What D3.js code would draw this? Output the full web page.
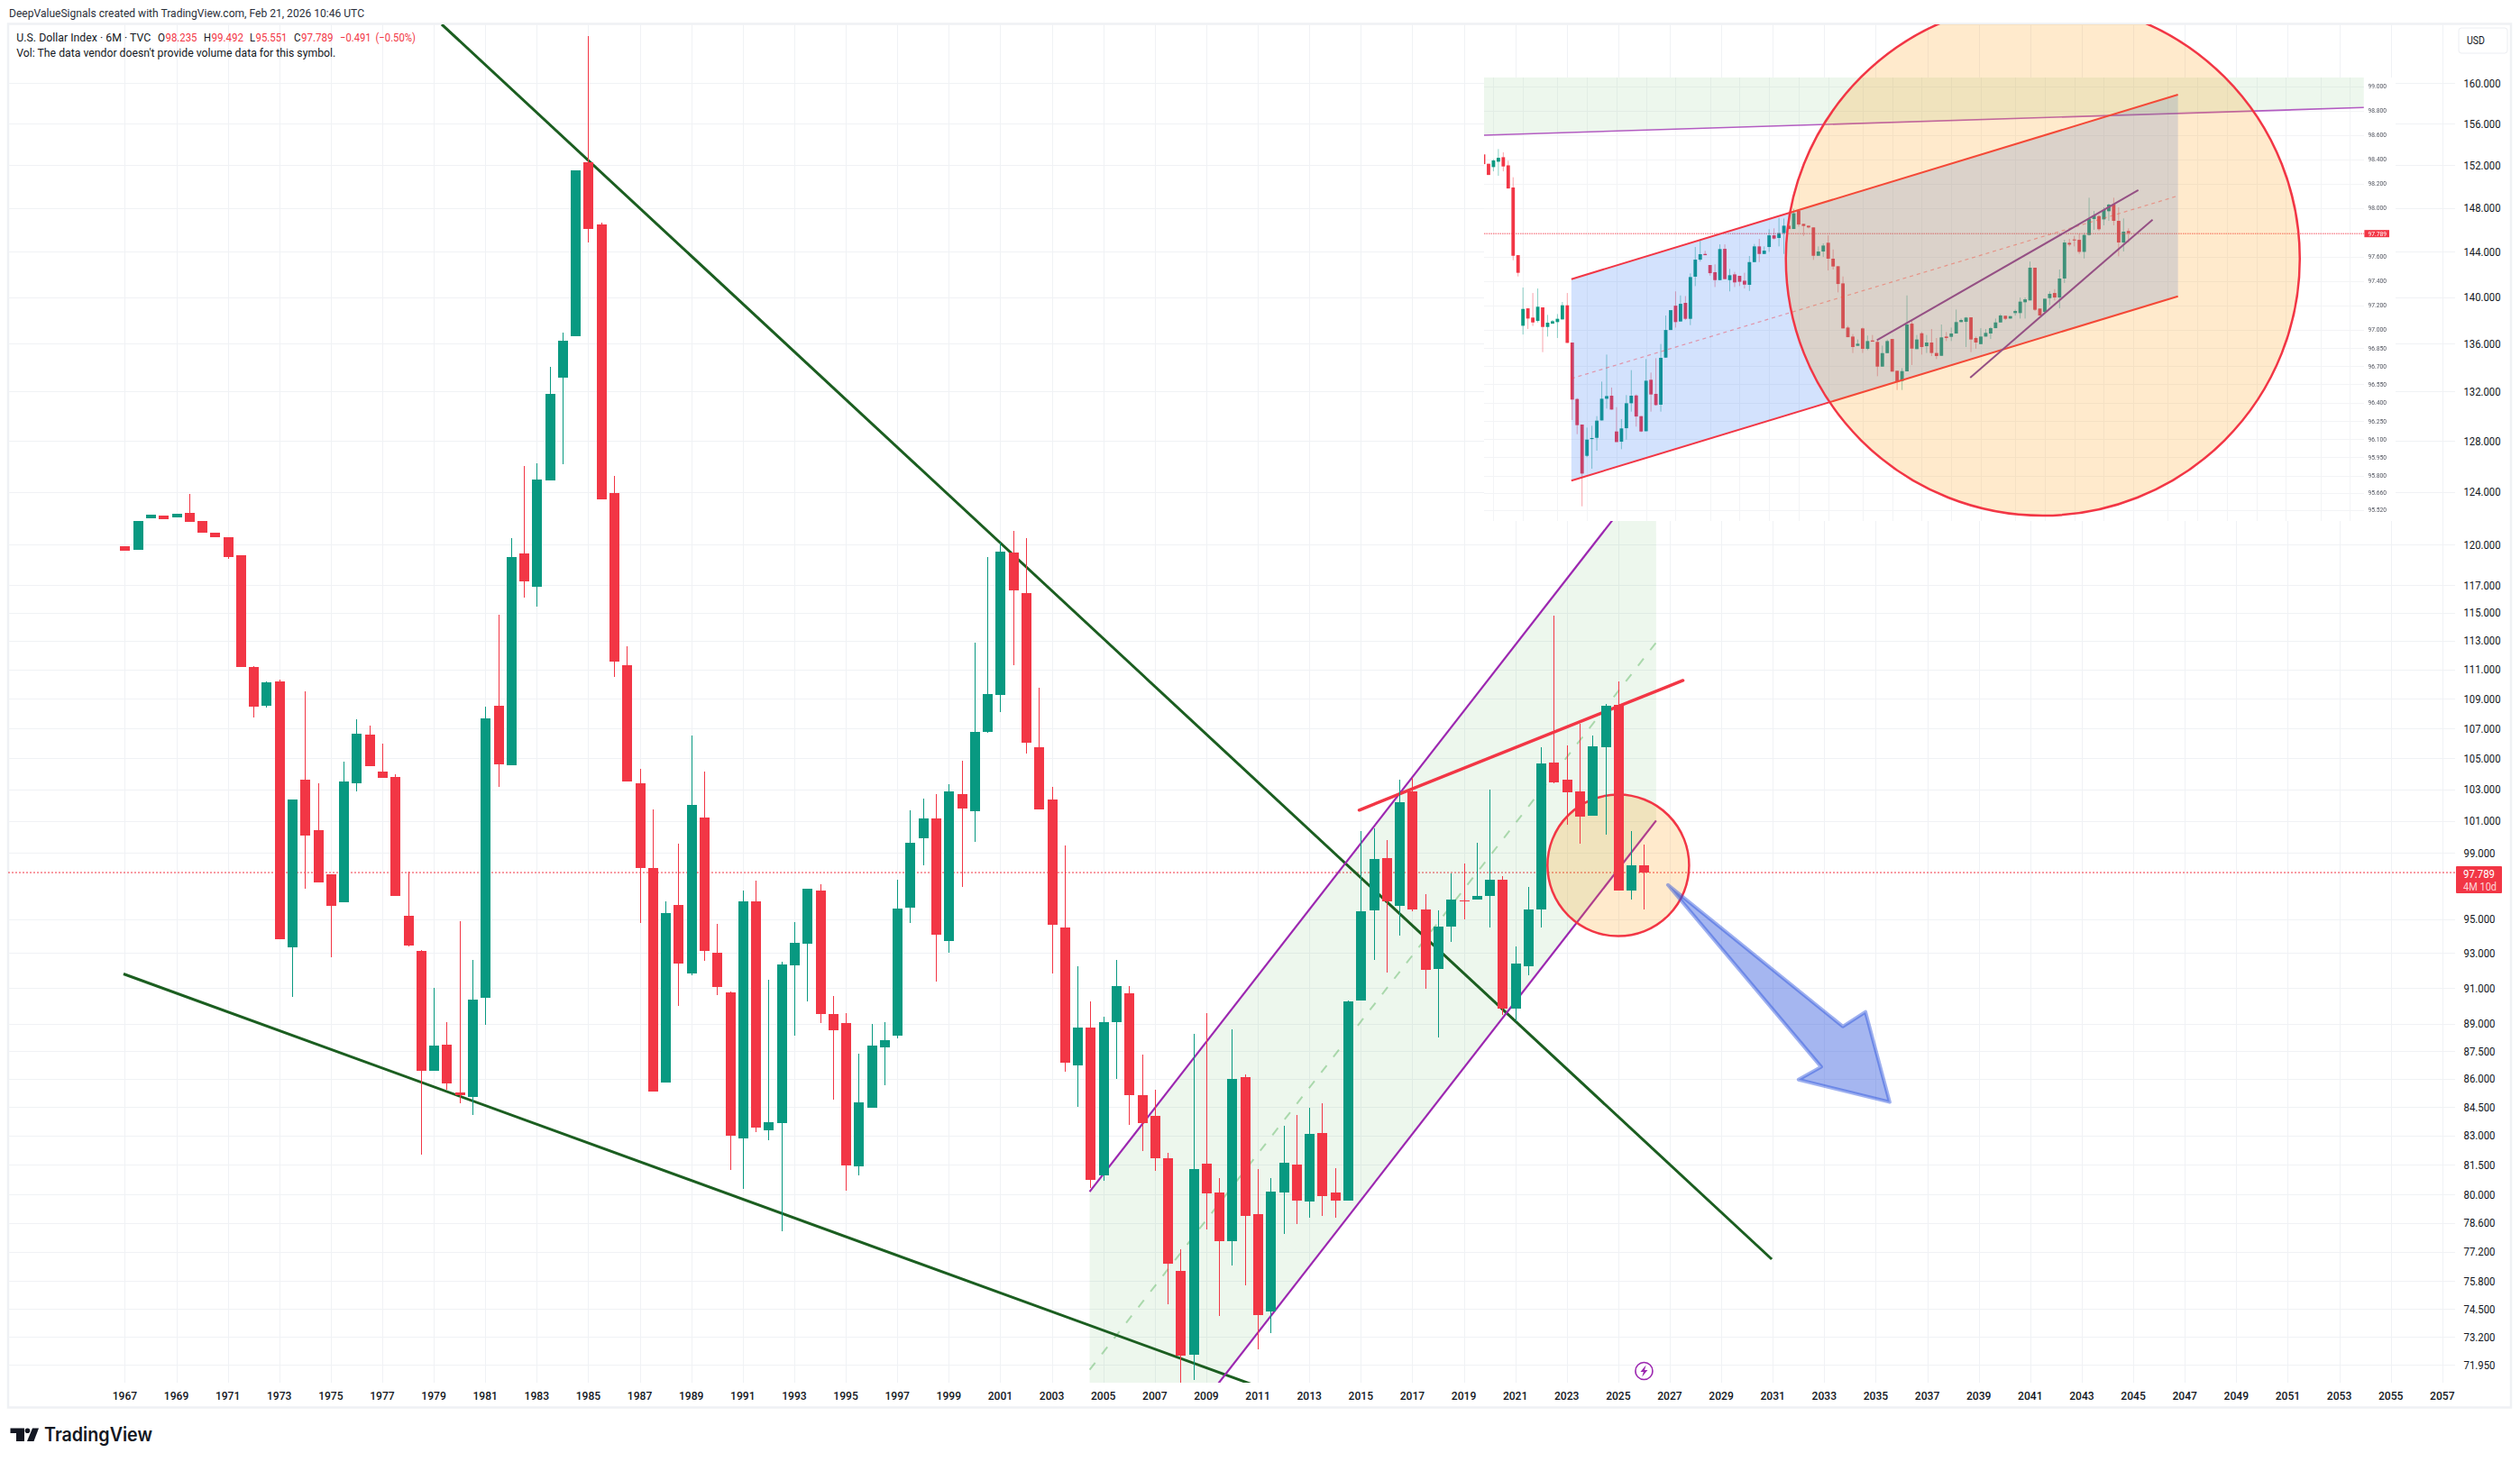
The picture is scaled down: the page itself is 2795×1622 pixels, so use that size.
<!DOCTYPE html>
<html><head><meta charset="utf-8">
<script src="https://cdn.jsdelivr.net/npm/d3@7"></script>
<style>html,body{margin:0;padding:0;background:#fff}svg{display:block}text{font-family:Roboto,"Noto Sans",sans-serif}</style>
</head><body><svg id="c" width="2795" height="1622"></svg>
<script>
// ---------- main chart values (DXY, 6M candles from 1967.0, one every half year)
const startYear = 1967;
const opens = [119.87,119.60,121.98,122.18,122.05,122.39,121.77,120.89,120.54,119.20,
111.17,108.52,110.17,93.34,103.63,100.43,97.69,96.00,103.40,106.59,
104.15,103.81,95.20,93.13,86.43,87.85,85.27,85.03,90.45,108.52,
104.56,119.33,116.87,124.89,133.15,136.64,152.30,146.49,123.90,111.30,
103.40,98.08,85.79,95.84,91.84,101.22,93.03,90.75,82.86,96.05,
83.28,83.65,92.30,93.55,96.71,89.55,89.04,81.43,84.46,87.70,
88.34,95.68,99.92,101.16,93.71,102.71,101.61,106.76,109.26,119.40,
116.41,105.75,102.36,94.51,86.72,88.79,80.97,89.09,90.70,85.13,
84.00,81.84,76.29,72.40,81.57,80.12,77.73,86.09,79.04,74.38,
80.12,81.52,79.67,83.14,80.12,79.71,90.30,95.52,98.68,95.78,
102.88,95.57,92.09,94.56,96.10,96.16,96.38,97.36,89.85,92.25,
95.57,104.74,103.63,102.88,101.33,105.75,108.58,96.71,98.235];
const highs = [119.87,121.77,122.25,122.18,122.32,123.83,121.77,120.89,120.54,119.20,
111.23,110.17,110.30,102.36,109.50,103.40,97.69,104.80,107.60,107.18,
105.99,103.98,97.86,93.18,91.01,89.09,94.88,92.61,108.46,114.86,
120.47,126.02,126.23,134.05,136.95,151.52,164.75,146.66,125.22,112.62,
104.33,101.73,96.05,99.58,106.52,104.15,94.73,90.80,96.71,97.31,
91.47,92.50,94.83,96.82,97.09,90.55,89.60,87.36,88.99,89.09,
97.36,101.67,102.42,102.71,103.34,104.86,112.87,119.07,120.14,121.02,
120.47,109.75,103.17,99.47,92.25,90.25,89.39,92.61,91.11,87.31,
85.41,82.12,77.32,88.44,89.60,80.84,88.69,86.23,81.29,80.84,
83.51,84.08,84.46,84.70,81.33,90.30,100.37,100.54,99.80,103.63,
103.75,96.49,95.51,97.75,98.35,99.63,103.00,97.58,93.39,96.93,
105.75,114.79,105.87,107.30,106.52,108.65,110.17,100.37,99.492];
const lows = [119.53,119.60,121.98,121.91,122.05,121.71,120.89,120.54,118.93,111.17,
107.72,108.40,93.82,90.50,96.82,97.20,92.77,96.00,102.88,104.50,
103.75,96.38,93.39,82.03,86.43,85.41,84.70,84.08,88.94,103.17,
104.56,116.09,115.44,124.89,126.16,136.64,144.87,123.42,110.48,103.52,
94.78,85.32,85.79,90.00,91.73,92.56,90.60,81.24,80.30,83.18,
82.77,78.20,88.34,90.25,89.04,84.89,80.21,80.97,84.46,85.65,
88.19,94.78,98.24,91.37,93.03,96.93,99.69,106.70,108.09,111.30,
105.33,101.73,91.84,86.38,84.51,80.34,80.70,85.99,83.56,82.21,
81.20,74.72,71.15,71.27,78.29,74.18,76.54,75.61,72.64,73.39,
78.07,78.55,78.86,78.95,78.86,79.71,90.30,92.61,91.89,94.03,
95.46,90.96,88.24,93.66,94.99,96.16,94.51,89.49,89.14,91.73,
94.51,103.40,100.76,99.58,101.33,100.15,96.71,96.16,95.551];
const closes = [119.53,121.77,122.25,121.91,122.32,121.71,120.89,120.54,119.07,111.17,
108.46,110.11,93.82,102.36,100.09,97.20,95.78,103.52,106.65,104.50,
103.75,96.38,93.44,86.43,87.80,85.74,85.13,90.35,107.66,104.62,
119.07,117.26,124.96,131.81,136.26,151.52,146.09,123.42,111.55,103.52,
98.08,85.32,95.36,92.40,102.01,93.13,91.06,83.00,96.05,83.41,
83.70,92.35,93.60,96.82,89.55,88.64,81.47,84.75,87.80,88.09,
95.62,99.64,101.16,94.08,102.88,101.79,106.76,109.32,119.47,116.61,
106.05,101.73,94.67,86.84,88.79,80.75,89.09,91.11,85.13,83.65,
81.84,76.62,72.36,81.29,80.07,77.73,85.99,78.95,74.22,80.16,
81.61,79.71,83.09,79.94,79.71,90.25,95.46,98.63,96.05,102.19,
95.57,92.04,94.56,96.16,96.05,96.38,97.36,89.85,92.40,95.57,
104.68,103.46,102.82,101.27,105.81,108.52,96.71,98.24,97.789];
const yearTicks = d3.range(1967, 2058, 2);
const priceTicks = [160,156,152,148,144,140,136,132,128,124,120,117,115,113,111,109,107,105,103,101,99,95,93,91,89,87.5,86,84.5,83,81.5,80,78.6,77.2,75.8,74.5,73.2,71.95];
const lastPrice = 97.789;

// ---------- main chart drawings (year, price)
const wedgeUpper = [[1979.31,165.95],[2030.96,76.84]];
const wedgeLower = [[1966.95,91.80],[2011.16,70.91]];
const channelUpper = [[2004.47,80.14],[2026.47,126.16]];
const channelMid = [[2004.47,71.72],[2026.47,112.87]];
const channelLower = [[2004.47,64.14],[2026.47,101.01]];
const redTrend = [[2014.94,101.67],[2027.51,110.23]];
const smallCircle = {year:2025, price:98.23, edgeYear:2027.75};
const arrowShape = [[2026.93,97.04],[2033.72,88.84],[2034.60,89.65],[2035.54,84.75],[2032.00,85.94],[2032.88,86.63]];

// ---------- inset chart values (bar number, inset price)
const insetOpen = [98.44,98.363,98.336,98.380,98.417,98.350,98.168,97.612,97.032,97.175,97.099,97.072,97.183,97.022,97.049,97.062,97.084,97.200,
96.894,96.430,96.220,95.963,96.101,96.111,96.254,96.432,96.457,96.163,96.079,96.190,96.395,96.459,96.289,96.165,96.588,96.472,96.383,96.770,96.997,97.197,97.067,97.220,97.089,97.435,97.575,97.622,97.531,97.472,97.407,97.664,97.407,97.454,97.442,97.402,97.368,97.555,97.684,97.622,97.679,97.775,97.753,97.793,97.854,97.827,97.978,97.869,97.854,97.840,97.607,97.642,97.714,97.583,97.521,97.380,97.017,96.943,96.867,97.010,96.842,96.911,96.899,96.696,96.807,96.923,96.662,96.578,96.657,97.049,96.840,96.970,96.864,96.894,96.808,96.785,96.943,96.941,96.968,97.062,97.064,97.101,96.931,96.881,96.943,96.968,97.012,97.059,97.114,97.091,97.136,97.136,97.225,97.240,97.509,97.173,97.146,97.259,97.301,97.264,97.420,97.713,97.741,97.738,97.639,97.778,97.909,97.933,97.906,97.973,98.030,97.894,97.716,97.810];
const insetHigh = [98.44,98.363,98.400,98.484,98.457,98.388,98.252,97.612,97.346,97.175,97.301,97.338,97.183,97.121,97.079,97.128,97.227,97.301,
96.894,96.437,96.220,96.195,96.210,96.289,96.573,96.795,96.524,96.363,96.264,96.462,96.667,96.467,96.289,96.758,96.647,96.765,96.882,97.116,97.160,97.314,97.281,97.276,97.462,97.679,97.733,97.647,97.531,97.536,97.701,97.701,97.499,97.474,97.442,97.467,97.605,97.704,97.746,97.684,97.825,97.832,97.918,97.913,97.854,97.993,97.980,97.869,97.854,97.840,97.684,97.709,97.775,97.659,97.521,97.437,97.030,96.963,96.919,97.017,96.951,96.956,96.919,96.869,96.919,96.923,96.662,96.684,97.281,97.079,96.956,96.980,96.956,97.005,96.931,97.042,96.980,97.017,97.165,97.091,97.104,97.101,96.943,97.012,97.005,97.022,97.091,97.128,97.114,97.111,97.165,97.264,97.264,97.560,97.509,97.173,97.254,97.314,97.333,97.494,97.738,97.746,97.770,97.790,97.795,98.084,97.975,97.943,98.005,98.035,98.084,98.005,97.914,97.832];
const insetLow = [98.36,98.271,98.301,98.264,98.301,98.160,97.570,97.437,96.960,97.005,97.030,97.059,96.815,96.943,97.049,96.931,97.084,96.891,
96.257,96.141,95.548,95.951,95.857,96.005,96.254,96.351,96.343,96.076,96.017,96.096,96.326,96.203,96.158,96.165,96.326,96.375,96.326,96.770,96.997,97.017,97.067,97.079,97.037,97.358,97.560,97.612,97.444,97.350,97.407,97.415,97.314,97.350,97.358,97.338,97.318,97.555,97.555,97.622,97.639,97.741,97.684,97.622,97.827,97.827,97.847,97.770,97.832,97.573,97.607,97.597,97.486,97.494,97.306,97.010,96.938,96.808,96.867,96.808,96.832,96.901,96.617,96.696,96.807,96.655,96.504,96.504,96.657,96.709,96.840,96.795,96.808,96.783,96.758,96.785,96.906,96.906,96.968,97.062,96.857,96.815,96.844,96.881,96.943,96.923,97.012,97.059,97.079,97.091,97.116,97.091,97.091,97.240,97.153,97.116,97.136,97.202,97.240,97.175,97.383,97.684,97.684,97.622,97.585,97.773,97.820,97.812,97.857,97.894,97.857,97.602,97.642,97.716];
const insetClose = [98.36,98.271,98.390,98.412,98.341,98.160,97.607,97.467,97.170,97.091,97.059,97.188,97.022,97.057,97.069,97.089,97.200,96.891,
96.425,96.215,95.817,96.096,96.109,96.252,96.432,96.454,96.343,96.076,96.188,96.395,96.457,96.286,96.163,96.580,96.467,96.380,96.768,96.997,97.160,97.062,97.212,97.089,97.432,97.575,97.620,97.612,97.464,97.407,97.662,97.415,97.447,97.388,97.393,97.370,97.555,97.684,97.622,97.649,97.775,97.748,97.793,97.854,97.827,97.956,97.864,97.852,97.840,97.607,97.642,97.691,97.583,97.519,97.375,97.010,96.938,96.857,96.884,96.842,96.906,96.901,96.696,96.807,96.906,96.655,96.573,96.659,97.042,96.844,96.919,96.857,96.894,96.808,96.783,96.936,96.931,96.968,97.062,97.079,97.099,96.919,96.894,96.943,96.973,97.012,97.059,97.116,97.089,97.111,97.153,97.230,97.249,97.509,97.163,97.116,97.254,97.294,97.264,97.420,97.716,97.699,97.733,97.639,97.778,97.911,97.938,97.825,97.983,98.027,97.894,97.716,97.805,97.793];
const insetGridBars = [2,8,15,21,27,33,39,46,52,58,64,70,77,83,89,95,101,108,114,120,126,132,139,145,151,157,163,170,176];
const insetTicks = [99,98.8,98.6,98.4,98.2,98,97.6,97.4,97.2,97,96.85,96.7,96.55,96.4,96.25,96.1,95.95,95.8,95.66,95.52];
const insetGreenEdge = [[0.08,98.598],[178.8,98.825]];
const insetChannelUpper = [[17.83,97.415],[141.05,98.931]];
const insetChannelLower = [[17.83,95.759],[141.05,97.274]];
const insetChannelMid = [[17.83,96.598],[140.6,98.094]];
const insetWedgeUpper = [[79.9,96.914],[133,98.146]];
const insetWedgeLower = [[98.85,96.605],[135.9,97.904]];
const bigCircle = {bar:113.6, price:97.583, edgeBar:165.8};

// ---------- colours
const UP='#089981', DOWN='#f23645', GRID='#f0f2f5', WEDGE='#1b5e20', PURPLE='#9c27b0', TXT='#131722';

// ---------- scales
const x = d3.scaleLinear().domain([1967,2057]).range([138.4,2708.8]);
const y = d3.scaleLog().domain([71.95,160]).range([1514,92]);
const ix = d3.scaleLinear().domain([0,130]).range([1645.5,2355.3]);
const iy = d3.scaleLinear().domain([95.52,99]).range([565.5,95.7]);
const pane = {l:9,t:27,r:2723,b:1534};
const inset = {l:1646,t:86,r:2657,b:578,plot:2622};

const svg = d3.select('#c');
const defs = svg.append('defs');
defs.append('clipPath').attr('id','pane').append('rect').attr('x',pane.l).attr('y',pane.t).attr('width',pane.r-pane.l).attr('height',pane.b-pane.t);
defs.append('clipPath').attr('id','iplot').append('rect').attr('x',inset.l).attr('y',inset.t).attr('width',inset.plot-inset.l).attr('height',inset.b-inset.t);
defs.append('filter').attr('id','soft').append('feGaussianBlur').attr('stdDeviation',0.35);

const line = (sx,sy)=>d3.line().x(d=>sx(d[0])).y(d=>sy(d[1]));
const mainLine = line(x,y), insetLine = line(ix,iy);

// frame
svg.append('rect').attr('x',9).attr('y',26.5).attr('width',2776).attr('height',1535).attr('fill','none').attr('stroke','#eff1f4').attr('stroke-width',2.5);

// grid
const grid = svg.append('g').attr('shape-rendering','crispEdges').attr('stroke',GRID).attr('stroke-width',1);
grid.selectAll('.v').data(yearTicks).join('line').attr('x1',d=>Math.round(x(d))+.5).attr('x2',d=>Math.round(x(d))+.5).attr('y1',pane.t).attr('y2',pane.b);
grid.selectAll('.h').data(priceTicks).join('line').attr('x1',pane.l).attr('x2',pane.r).attr('y1',d=>Math.round(y(d))+.5).attr('y2',d=>Math.round(y(d))+.5);

const below = svg.append('g').attr('clip-path','url(#pane)');
// last price line
below.append('line').attr('x1',pane.l).attr('x2',pane.r).attr('y1',y(lastPrice)).attr('y2',y(lastPrice)).attr('stroke',DOWN).attr('stroke-width',1).attr('stroke-dasharray','2 2');
// channel
below.append('path').attr('d',mainLine([channelUpper[0],channelUpper[1],channelLower[1],channelLower[0]])+'Z').attr('fill','rgba(76,175,80,0.1)');
below.append('path').attr('d',mainLine(channelMid)).attr('fill','none').attr('stroke','#4caf50').attr('stroke-opacity',.42).attr('stroke-width',2).attr('stroke-dasharray','10 12');
below.append('path').attr('d',mainLine(wedgeUpper)).attr('fill','none').attr('stroke',WEDGE).attr('stroke-width',3);
below.append('path').attr('d',mainLine(wedgeLower)).attr('fill','none').attr('stroke',WEDGE).attr('stroke-width',3);
below.append('path').attr('d',mainLine(channelUpper)).attr('fill','none').attr('stroke',PURPLE).attr('stroke-width',2.2);
below.append('path').attr('d',mainLine(channelLower)).attr('fill','none').attr('stroke',PURPLE).attr('stroke-width',2.2);

// ---------- inset picture
const ins = svg.append('g');
ins.append('rect').attr('x',inset.l).attr('y',inset.t).attr('width',inset.r-inset.l).attr('height',inset.b-inset.t).attr('fill','#fff');
const ig = ins.append('g').attr('shape-rendering','crispEdges').attr('stroke','#f3f4f6').attr('stroke-width',1);
ig.selectAll('.v').data(insetGridBars).join('line').attr('x1',d=>Math.round(ix(d))+.5).attr('x2',d=>Math.round(ix(d))+.5).attr('y1',inset.t).attr('y2',inset.b);
ig.selectAll('.h').data(insetTicks).join('line').attr('x1',inset.l).attr('x2',inset.plot).attr('y1',d=>Math.round(iy(d))+.5).attr('y2',d=>Math.round(iy(d))+.5);
const ipl = ins.append('g').attr('clip-path','url(#iplot)');
// green band above purple edge
const greenBand = [insetGreenEdge[0],insetGreenEdge[1]];
ipl.append('path').attr('d',`M${ix(greenBand[0][0])},${inset.t}L${ix(greenBand[1][0])},${inset.t}L${ix(greenBand[1][0])},${iy(greenBand[1][1])}L${ix(greenBand[0][0])},${iy(greenBand[0][1])}Z`).attr('fill','rgba(76,175,80,0.1)');
// inset candles
const ibars = d3.range(insetOpen.length).map(i=>({i,o:insetOpen[i],h:insetHigh[i],l:insetLow[i],c:insetClose[i]}));
const icg = ipl.append('g').attr('filter','url(#soft)');
icg.selectAll('line').data(ibars).join('line').attr('x1',d=>ix(d.i)).attr('x2',d=>ix(d.i)).attr('y1',d=>iy(d.h)).attr('y2',d=>iy(d.l)).attr('stroke',d=>d.c>=d.o?UP:DOWN).attr('stroke-width',1).attr('stroke-opacity',.45);
icg.selectAll('rect').data(ibars).join('rect').attr('x',d=>ix(d.i)-1.9).attr('width',3.8).attr('y',d=>iy(Math.max(d.o,d.c))).attr('height',d=>Math.max(1,iy(Math.min(d.o,d.c))-iy(Math.max(d.o,d.c)))).attr('fill',d=>d.c>=d.o?UP:DOWN);
// price line in inset
ipl.append('line').attr('x1',inset.l).attr('x2',inset.plot).attr('y1',iy(lastPrice)).attr('y2',iy(lastPrice)).attr('stroke',DOWN).attr('stroke-opacity',.85).attr('stroke-dasharray','1.5 1');
// inset axis labels
const itg = ins.append('g').attr('filter','url(#soft)');
itg.selectAll('text').data(insetTicks).join('text').attr('x',2626.5).attr('y',d=>iy(d)).attr('dy','.36em').attr('font-size',7.5).attr('fill','#50535e').attr('textLength',20.5).attr('lengthAdjust','spacingAndGlyphs').text(d=>d3.format('.3f')(d));
ins.append('rect').attr('x',2622.4).attr('y',iy(lastPrice)-4).attr('width',27.6).attr('height',8).attr('fill',DOWN);
ins.append('text').attr('x',2626.5).attr('y',iy(lastPrice)).attr('dy','.36em').attr('font-size',7.5).attr('fill','#fff').attr('textLength',20.5).attr('lengthAdjust','spacingAndGlyphs').attr('filter','url(#soft)').text('97.789');
// inset drawings on top of candles
ipl.append('path').attr('d',insetLine(insetGreenEdge)).attr('fill','none').attr('stroke',PURPLE).attr('stroke-opacity',.75).attr('stroke-width',1.6);
ipl.append('path').attr('d',insetLine([insetChannelUpper[0],insetChannelUpper[1],insetChannelLower[1],insetChannelLower[0]])+'Z').attr('fill','rgba(33,110,243,0.2)');
ipl.append('path').attr('d',insetLine(insetChannelMid)).attr('fill','none').attr('stroke',DOWN).attr('stroke-opacity',.45).attr('stroke-width',1.2).attr('stroke-dasharray','4 4');
ipl.append('path').attr('d',insetLine(insetChannelUpper)).attr('fill','none').attr('stroke',DOWN).attr('stroke-width',2);
ipl.append('path').attr('d',insetLine(insetChannelLower)).attr('fill','none').attr('stroke',DOWN).attr('stroke-width',2);
ipl.append('path').attr('d',insetLine(insetWedgeUpper)).attr('fill','none').attr('stroke','#7b3fa6').attr('stroke-width',2);
ipl.append('path').attr('d',insetLine(insetWedgeLower)).attr('fill','none').attr('stroke','#7b3fa6').attr('stroke-width',2);

// circles & arrow
const over = svg.append('g').attr('clip-path','url(#pane)');
over.append('circle').attr('cx',ix(bigCircle.bar)).attr('cy',iy(bigCircle.price)).attr('r',ix(bigCircle.edgeBar)-ix(bigCircle.bar)).attr('fill','rgba(255,152,0,0.2)').attr('stroke',DOWN).attr('stroke-width',2.5);
// red trend
over.append('path').attr('d',mainLine(redTrend)).attr('fill','none').attr('stroke',DOWN).attr('stroke-width',3.5).attr('stroke-linecap','round');
over.append('circle').attr('cx',x(smallCircle.year)).attr('cy',y(smallCircle.price)).attr('r',x(smallCircle.edgeYear)-x(smallCircle.year)).attr('fill','rgba(255,152,0,0.2)').attr('stroke',DOWN).attr('stroke-width',2.5);
over.append('path').attr('d',mainLine(arrowShape)+'Z').attr('fill','rgba(41,80,220,0.42)').attr('stroke','rgba(41,80,220,0.45)').attr('stroke-width',4).attr('stroke-linejoin','round');

// ---------- main candles
const bars = opens.map((o,i)=>({year:startYear+i/2,o,h:highs[i],l:lows[i],c:closes[i]}));
const cg = svg.append('g').attr('clip-path','url(#pane)').attr('shape-rendering','crispEdges');
cg.selectAll('line').data(bars).join('line').attr('x1',d=>Math.round(x(d.year))+.5).attr('x2',d=>Math.round(x(d.year))+.5).attr('y1',d=>y(d.h)).attr('y2',d=>y(d.l)).attr('stroke',d=>d.c>=d.o?UP:DOWN).attr('stroke-width',1);
cg.selectAll('rect').data(bars).join('rect').attr('x',d=>Math.round(x(d.year))-5).attr('width',11).attr('y',d=>y(Math.max(d.o,d.c))).attr('height',d=>Math.max(1,y(Math.min(d.o,d.c))-y(Math.max(d.o,d.c)))).attr('fill',d=>d.c>=d.o?UP:DOWN);

// ---------- axes
const fmt = d3.format('.3f');
svg.append('g').selectAll('text').data(yearTicks).join('text').attr('x',d=>x(d)).attr('y',1548).attr('dy','.36em').attr('text-anchor','middle').attr('font-size',13).attr('font-weight',500).attr('fill',TXT).attr('textLength',27.5).attr('lengthAdjust','spacingAndGlyphs').text(d=>d);
svg.append('g').selectAll('text').data(priceTicks).join('text').attr('x',2732.5).attr('y',d=>y(d)).attr('dy','.36em').attr('font-size',13).attr('fill',TXT).attr('textLength',d=>d>=100?41:35).attr('lengthAdjust','spacingAndGlyphs').text(d=>fmt(d));
svg.append('rect').attr('x',2727).attr('y',31).attr('width',54).attr('height',28).attr('rx',3).attr('fill','#fff').attr('stroke','#eceef2');
svg.append('text').attr('x',2736).attr('y',44.5).attr('dy','.36em').attr('font-size',12).attr('fill',TXT).attr('textLength',20).attr('lengthAdjust','spacingAndGlyphs').text('USD');
svg.append('rect').attr('x',2724).attr('y',961).attr('width',51).attr('height',30).attr('rx',1).attr('fill',DOWN);
svg.append('text').attr('x',2732).attr('y',969.5).attr('dy','.36em').attr('font-size',13).attr('fill','#fff').attr('textLength',35).attr('lengthAdjust','spacingAndGlyphs').text('97.789');
svg.append('text').attr('x',2732).attr('y',983.5).attr('dy','.36em').attr('font-size',13).attr('fill','#fff').attr('fill-opacity',.8).attr('textLength',37).attr('lengthAdjust','spacingAndGlyphs').text('4M 10d');

// ---------- titles and legend
function label(t,xp,yp,w,col,size){svg.append('text').attr('x',xp).attr('y',yp).attr('dy','.36em').attr('font-size',size||12.5).attr('fill',col||TXT).attr('textLength',w).attr('lengthAdjust','spacingAndGlyphs').text(t);}
label('DeepValueSignals created with TradingView.com, Feb 21, 2026 10:46 UTC',10,14.5,394,'#2a2e39',12.5);
label('U.S. Dollar Index · 6M · TVC',18.3,41.5,149,TXT);
label('O',175,41.5,8,TXT); label('98.235',183.5,41.5,35,DOWN);
label('H',226,41.5,8,TXT); label('99.492',234.4,41.5,35.6,DOWN);
label('L',277,41.5,6,TXT); label('95.551',283.5,41.5,35,DOWN);
label('C',326,41.5,7.5,TXT); label('97.789',334,41.5,35.6,DOWN);
label('−0.491',377,41.5,34.6,DOWN); label('(−0.50%)',416.5,41.5,44.5,DOWN);
label("Vol: The data vendor doesn't provide volume data for this symbol.",18.3,58.5,354,TXT);

// lightning marker
const lm = svg.append('g').attr('transform',`translate(${x(2026)},1521)`);
lm.append('circle').attr('r',9.5).attr('fill','#fff').attr('stroke',PURPLE).attr('stroke-width',1.6);
lm.append('path').attr('d','M2.2,-6.5 L-4,1 L-0.6,1 L-2.2,6.5 L4,-1 L0.6,-1 Z').attr('fill',PURPLE);

// logo
const logo = svg.append('g').attr('fill','#131722');
logo.append('path').attr('d','M11.5,1584.5H27V1599H18V1590H11.5Z');
logo.append('circle').attr('cx',30.5).attr('cy',1587.3).attr('r',2.8);
logo.append('path').attr('d','M36,1584.5H43L37.5,1599H30Z');
svg.append('text').attr('x',49).attr('y',1599).attr('font-weight',600).attr('font-size',21).attr('fill','#131722').attr('textLength',120).attr('lengthAdjust','spacingAndGlyphs').attr('style','font-family:Inter,Roboto,sans-serif').text('TradingView');
</script></body></html>
